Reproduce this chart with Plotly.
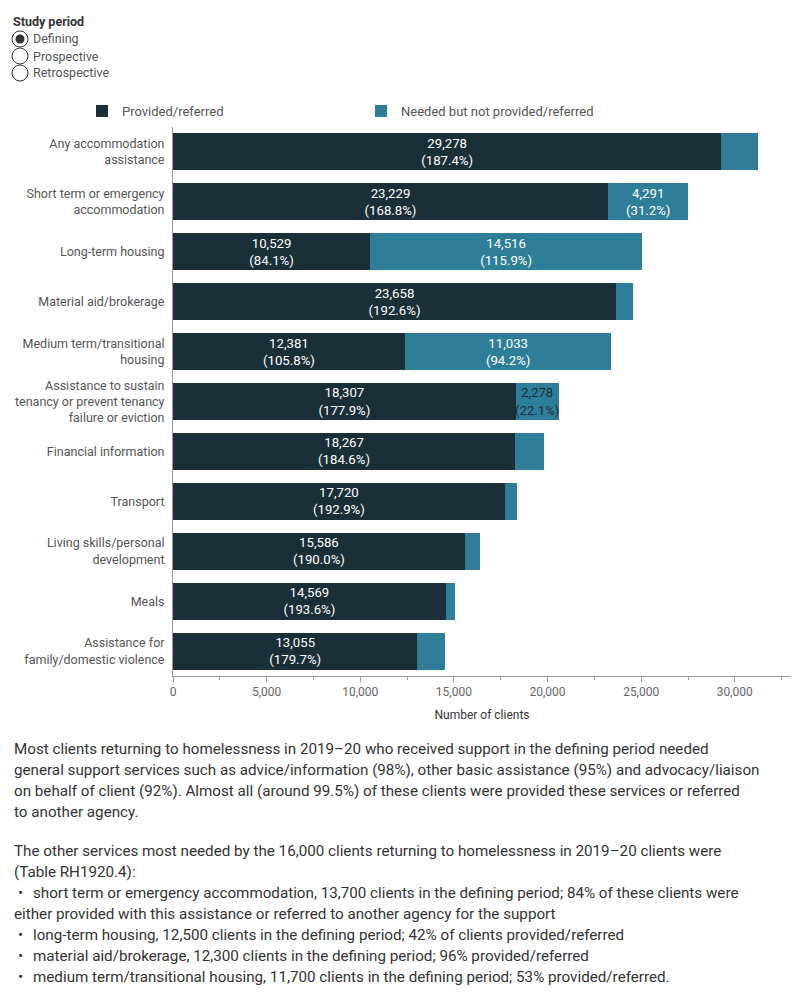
import plotly.graph_objects as go

# ---------------- data ----------------
categories = [
    "Any accommodation<br>assistance",
    "Short term or emergency<br>accommodation",
    "Long-term housing",
    "Material aid/brokerage",
    "Medium term/transitional<br>housing",
    "Assistance to sustain<br>tenancy or prevent tenancy<br>failure or eviction",
    "Financial information",
    "Transport",
    "Living skills/personal<br>development",
    "Meals",
    "Assistance for<br>family/domestic violence",
]
provided = [29278, 23229, 10529, 23658, 12381, 18307, 18267, 17720, 15586, 14569, 13055]
provided_pct = [187.4, 168.8, 84.1, 192.6, 105.8, 177.9, 184.6, 192.9, 190.0, 193.6, 179.7]
needed = [1969, 4291, 14516, 909, 11033, 2278, 1524, 652, 820, 482, 1475]
needed_pct = [None, 31.2, 115.9, None, 94.2, 22.1, None, None, None, None, None]

x_ticks = [0, 5000, 10000, 15000, 20000, 25000, 30000]
x_tick_labels = ["0", "5,000", "10,000", "15,000", "20,000", "25,000", "30,000"]

para1 = [
    "Most clients returning to homelessness in 2019–20 who received support in the defining period needed",
    "general support services such as advice/information (98%), other basic assistance (95%) and advocacy/liaison",
    "on behalf of client (92%). Almost all (around 99.5%) of these clients were provided these services or referred",
    "to another agency.",
]
para2 = [
    "The other services most needed by the 16,000 clients returning to homelessness in 2019–20 clients were",
    "(Table RH1920.4):",
]
bullets = [
    "short term or emergency accommodation, 13,700 clients in the defining period; 84% of these clients were",
    "long-term housing, 12,500 clients in the defining period; 42% of clients provided/referred",
    "material aid/brokerage, 12,300 clients in the defining period; 96% provided/referred",
    "medium term/transitional housing, 11,700 clients in the defining period; 53% provided/referred.",
]
bullet_cont = "either provided with this assistance or referred to another agency for the support"
radio_title = "Study period"
radio_options = ["Defining", "Prospective", "Retrospective"]

# ---------------- styling ----------------
DARK = "#1b2f39"
TEAL = "#2e7e99"
FONT = "Roboto"
W, H = 800, 1000
L, R, T, B = 173, 9, 127, 324
PW, PH = W - L - R, H - T - B


def px(x):
    return (x - L) / PW


def py(y):
    return (H - B - y) / PH


prov_text = [f"{v:,}<br>({p:.1f}%)" for v, p in zip(provided, provided_pct)]
need_text = [f"{v:,}<br>({p:.1f}%)" if p is not None else "" for v, p in zip(needed, needed_pct)]
need_colors = ["white" if (p is None or p > 25) else DARK for p in needed_pct]

fig = go.Figure()
fig.add_trace(go.Bar(
    y=categories, x=provided, orientation="h", name="Provided/referred",
    marker=dict(color=DARK, line=dict(width=0)), width=0.74,
    text=prov_text, textposition="inside", insidetextanchor="middle",
    textfont=dict(color="white", size=13.2, family=FONT),
    constraintext="none", hoverinfo="skip",
))
fig.add_trace(go.Bar(
    y=categories, x=needed, orientation="h", name="Needed but not provided/referred",
    marker=dict(color=TEAL, line=dict(width=0)), width=0.74,
    text=need_text, textposition="inside", insidetextanchor="middle",
    textfont=dict(color=need_colors, size=13.2, family=FONT),
    constraintext="none", hoverinfo="skip",
))

fig.update_layout(
    width=W, height=H, barmode="stack",
    margin=dict(l=L, r=R, t=T, b=B, autoexpand=False),
    paper_bgcolor="white", plot_bgcolor="white",
    font=dict(family=FONT, size=12.5, color="#555"),
    showlegend=True,
    legend=dict(
        orientation="h", x=px(82), xanchor="left", y=py(96), yanchor="top",
        entrywidth=234, entrywidthmode="pixels",
        font=dict(size=13, color="#555", family=FONT),
        bgcolor="rgba(0,0,0,0)", traceorder="normal",
    ),
    bargap=0.26,
)
fig.update_yaxes(
    autorange="reversed", showline=True, linecolor="#999", linewidth=1,
    ticks="", showgrid=False, zeroline=False, ticklabelstandoff=5,
    tickfont=dict(size=12.5, color="#555", family=FONT),
)
fig.update_xaxes(
    range=[0, 33000], showline=True, linecolor="#999", linewidth=1,
    showgrid=False, zeroline=False,
    tickmode="array", tickvals=x_ticks, ticktext=x_tick_labels,
    ticks="outside", ticklen=5, tickcolor="#999",
    minor=dict(dtick=2500, tick0=0, ticks="outside", ticklen=3, tickcolor="#999"),
    tickfont=dict(size=12, color="#666", family=FONT),
    title=dict(text="Number of clients", standoff=12,
               font=dict(size=12, color="#333", family=FONT)),
)

ann = []
shapes = []

# radio filter
ann.append(dict(text=f"<b>{radio_title}</b>", x=px(11), y=py(21), xref="paper", yref="paper",
                xanchor="left", yanchor="middle", showarrow=False,
                font=dict(size=12.5, color="#333", family=FONT)))
for i, opt in enumerate(radio_options):
    cy = 39 + 17 * i
    shapes.append(dict(type="circle", xref="paper", yref="paper",
                       x0=px(12), x1=px(28), y0=py(cy + 8), y1=py(cy - 8),
                       line=dict(color="#333", width=1), fillcolor="white"))
    if i == 0:
        shapes.append(dict(type="circle", xref="paper", yref="paper",
                           x0=px(15.5), x1=px(24.5), y0=py(cy + 4.5), y1=py(cy - 4.5),
                           line=dict(width=0), fillcolor="#333"))
    ann.append(dict(text=opt, x=px(31), y=py(cy), xref="paper", yref="paper",
                    xanchor="left", yanchor="middle", showarrow=False,
                    font=dict(size=12.5, color="#555", family=FONT)))

# paragraphs
TXT = dict(size=15.2, color="#333", family=FONT)


def line(text, x, y):
    ann.append(dict(text=text, x=px(x), y=py(y), xref="paper", yref="paper",
                    xanchor="left", yanchor="middle", showarrow=False, font=TXT))


for i, t in enumerate(para1):
    line(t, 12, 749 + 21 * i)
for i, t in enumerate(para2):
    line(t, 12, 851 + 21 * i)
bullet_rows = [893, 935, 956, 977]
for t, y in zip(bullets, bullet_rows):
    line("•", 16, y)
    line(t, 31, y)
line(bullet_cont, 12, 914)

fig.update_layout(annotations=ann, shapes=shapes)
fig.write_html("out.html")
